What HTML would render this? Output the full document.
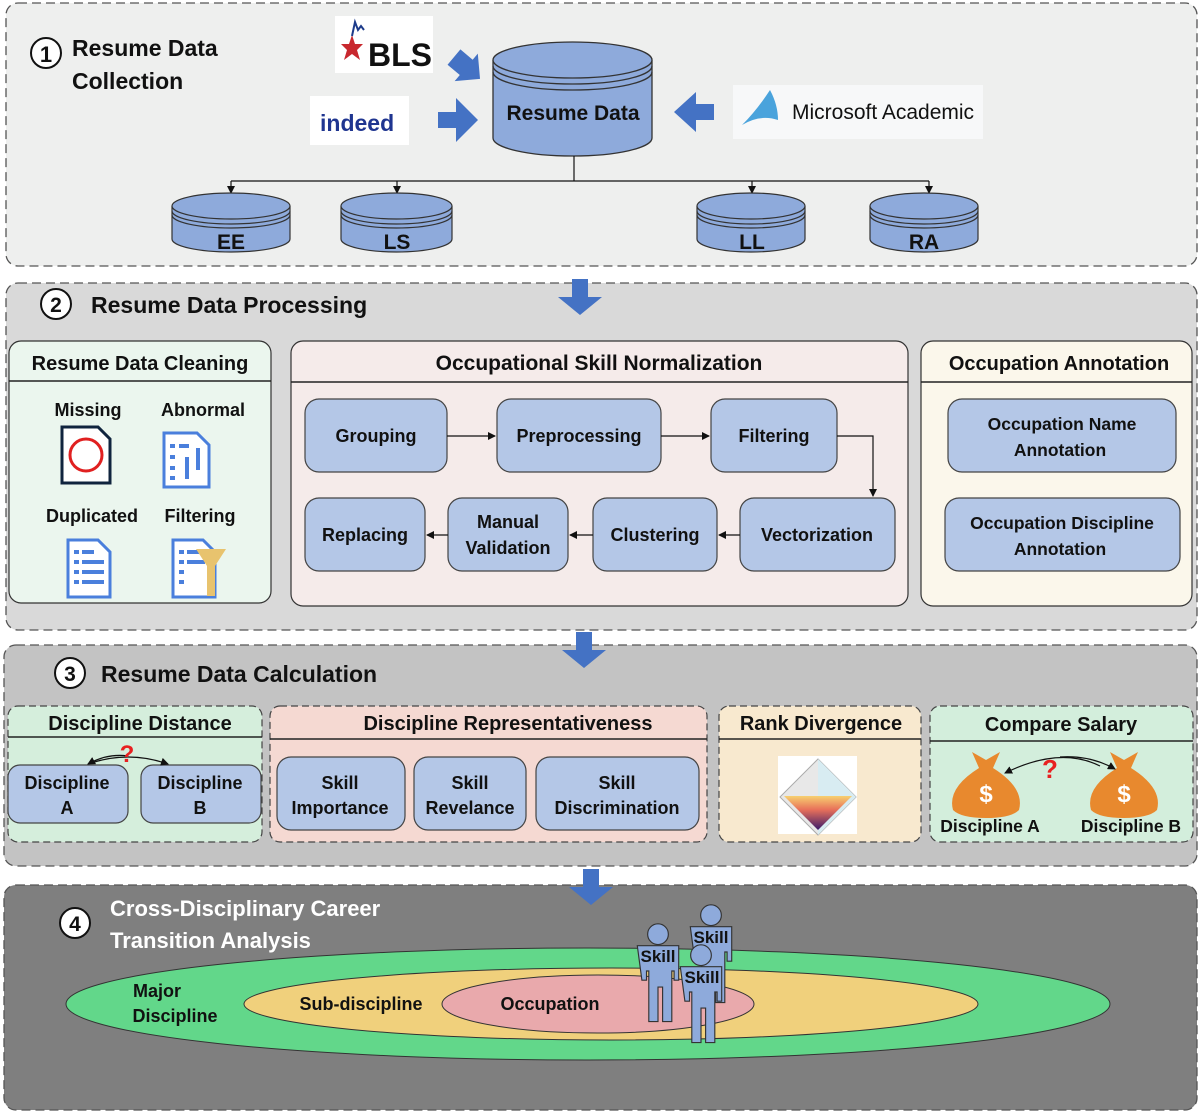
<!DOCTYPE html>
<html><head><meta charset="utf-8"><style>
html,body{margin:0;padding:0;background:#fff}
svg{display:block}
text{font-family:"Liberation Sans",sans-serif;font-weight:bold;fill:#111}
</style></head><body>
<svg width="1200" height="1114" viewBox="0 0 1200 1114" xmlns="http://www.w3.org/2000/svg">
<defs>
<marker id="ah" markerWidth="8" markerHeight="8" refX="7" refY="4" orient="auto" markerUnits="userSpaceOnUse"><path d="M0,0 L8,4 L0,8 z" fill="#111"/></marker>
<g id="bigarrow"><path d="M-8,0 h16 v18 h14 l-22,18 l-22,-18 h14 z" fill="#4472c4"/></g>
</defs>

<!-- Section 1 -->
<rect x="6" y="3" width="1191" height="263" rx="12" fill="#eeefee" stroke="#555" stroke-dasharray="9,5" stroke-width="1.3"/>
<circle cx="46" cy="53" r="15" fill="#fff" stroke="#111" stroke-width="2"/>
<text x="46" y="62" font-size="22" text-anchor="middle">1</text>
<text x="72" y="56" font-size="23">Resume Data</text>
<text x="72" y="89" font-size="23">Collection</text>

<!-- BLS logo -->
<rect x="335" y="16" width="98" height="57" fill="#fff"/>
<path d="M341,44 l8,0 l3,-9 l3,9 l8,0 l-6,6 l3,10 l-8,-6 l-8,6 l3,-10 z" fill="#c8282e"/>
<path d="M352,36 l3,-14 l3,8 l3,-4 l3,4" stroke="#1d3b8a" stroke-width="2" fill="none"/>
<text x="368" y="66" font-size="32" style="font-weight:900">BLS</text>
<!-- indeed logo -->
<rect x="310" y="96" width="99" height="49" fill="#fff"/>
<text x="320" y="131" font-size="23" style="fill:#1f3590">indeed</text>
<!-- Microsoft Academic -->
<rect x="733" y="85" width="250" height="54" fill="#f7f8f9"/>
<path d="M742,125 q15,-15 28,-35 q8,15 8,30 q-18,-6 -36,5z" fill="#4aa3dc"/>
<text x="792" y="119" font-size="21" style="font-weight:normal">Microsoft Academic</text>

<!-- blue arrows in -->
<path d="M450,58 l16,0 l0,-8 l18,18 l-18,18 l0,-8 l-16,0 z" fill="#4472c4" transform="rotate(40 467 68)"/>
<path d="M438,112 h18 v-14 l22,22 l-22,22 v-14 h-18 z" fill="#4472c4"/>
<path d="M714,104 h-18 v-12 l-22,20 l22,20 v-12 h18 z" fill="#4472c4"/>

<!-- big cylinder -->
<g stroke="#333" stroke-width="1.3" fill="#8eaadb">
<path d="M493,60 v78 a79.5,18 0 0 0 159,0 v-78"/>
<ellipse cx="572.5" cy="60" rx="79.5" ry="18"/>
<path d="M493,66 a79.5,18 0 0 0 159,0 M493,72 a79.5,18 0 0 0 159,0" fill="none"/>
</g>
<text x="573" y="120" font-size="21" text-anchor="middle">Resume Data</text>

<!-- connectors -->
<g stroke="#111" stroke-width="1.2" fill="none">
<path d="M574,156 v25"/>
<path d="M231,181 h698"/>
<path d="M231,181 v12" marker-end="url(#ah)"/>
<path d="M397,181 v12" marker-end="url(#ah)"/>
<path d="M752,181 v12" marker-end="url(#ah)"/>
<path d="M929,181 v12" marker-end="url(#ah)"/>
</g>
<!-- small cylinders -->
<g stroke="#333" stroke-width="1.2" fill="#8eaadb">
<path d="M172,206 v33 a59,13 0 0 0 118,0 v-33"/><ellipse cx="231" cy="206" rx="59" ry="13"/><path d="M172,211 a59,13 0 0 0 118,0 M172,215 a59,13 0 0 0 118,0" fill="none"/>
<path d="M341,206 v33 a55.5,13 0 0 0 111,0 v-33"/><ellipse cx="396.5" cy="206" rx="55.5" ry="13"/><path d="M341,211 a55.5,13 0 0 0 111,0 M341,215 a55.5,13 0 0 0 111,0" fill="none"/>
<path d="M697,206 v33 a54,13 0 0 0 108,0 v-33"/><ellipse cx="751" cy="206" rx="54" ry="13"/><path d="M697,211 a54,13 0 0 0 108,0 M697,215 a54,13 0 0 0 108,0" fill="none"/>
<path d="M870,206 v33 a54,13 0 0 0 108,0 v-33"/><ellipse cx="924" cy="206" rx="54" ry="13"/><path d="M870,211 a54,13 0 0 0 108,0 M870,215 a54,13 0 0 0 108,0" fill="none"/>
</g>
<g font-size="21" text-anchor="middle">
<text x="231" y="249">EE</text><text x="397" y="249">LS</text><text x="752" y="249">LL</text><text x="924" y="249">RA</text>
</g>

<!-- Section 2 -->
<rect x="6" y="283" width="1191" height="347" rx="12" fill="#d9d9d9" stroke="#555" stroke-dasharray="9,5" stroke-width="1.3"/>
<use href="#bigarrow" x="580" y="279"/>
<circle cx="56" cy="304" r="15" fill="#fff" stroke="#111" stroke-width="2"/>
<text x="56" y="312" font-size="21" text-anchor="middle">2</text>
<text x="91" y="313" font-size="23">Resume Data Processing</text>

<!-- cleaning -->
<rect x="9" y="341" width="262" height="262" rx="12" fill="#ebf6ee" stroke="#333" stroke-width="1.2"/>
<line x1="9" y1="381" x2="271" y2="381" stroke="#222" stroke-width="1.5"/>
<text x="140" y="370" font-size="20" text-anchor="middle">Resume Data Cleaning</text>
<g font-size="18" text-anchor="middle">
<text x="88" y="416">Missing</text><text x="203" y="416">Abnormal</text>
<text x="92" y="522">Duplicated</text><text x="200" y="522">Filtering</text>
</g>
<!-- icons -->
<path d="M62,427 h36 l12,12 v44 h-48 z" fill="#fff" stroke="#10243e" stroke-width="3"/>
<circle cx="86" cy="455" r="16" fill="none" stroke="#e02020" stroke-width="3"/>
<path d="M164,433 h33 l12,12 v42 h-45 z" fill="#fff" stroke="#4a7fdc" stroke-width="3"/>
<g fill="#4a7fdc"><rect x="170" y="444" width="5" height="4"/><rect x="179" y="444" width="10" height="4"/><rect x="170" y="455" width="5" height="4"/><rect x="170" y="466" width="5" height="4"/><rect x="170" y="476" width="5" height="4"/><rect x="185" y="457" width="4" height="22"/><rect x="196" y="448" width="4" height="22"/></g>
<path d="M68,540 h30 l12,12 v45 h-42 z" fill="#fff" stroke="#4a7fdc" stroke-width="3"/>
<g fill="#4a7fdc"><rect x="74" y="550" width="5" height="4"/><rect x="82" y="550" width="12" height="4"/><rect x="74" y="560" width="5" height="4"/><rect x="82" y="560" width="22" height="4"/><rect x="74" y="570" width="5" height="4"/><rect x="82" y="570" width="22" height="4"/><rect x="74" y="580" width="5" height="4"/><rect x="82" y="580" width="22" height="4"/></g>
<path d="M173,540 h30 l12,12 v45 h-42 z" fill="#fff" stroke="#4a7fdc" stroke-width="3"/>
<g fill="#4a7fdc"><rect x="179" y="550" width="5" height="4"/><rect x="187" y="550" width="12" height="4"/><rect x="179" y="560" width="5" height="4"/><rect x="187" y="560" width="18" height="4"/><rect x="179" y="570" width="5" height="4"/><rect x="179" y="580" width="5" height="4"/></g>
<path d="M196,549 h30 l-11,17 v30 h-8 v-30 z" fill="#e8c36e"/>

<!-- normalization -->
<rect x="291" y="341" width="617" height="265" rx="12" fill="#f5ebea" stroke="#333" stroke-width="1.2"/>
<line x1="291" y1="382" x2="908" y2="382" stroke="#222" stroke-width="1.5"/>
<text x="599" y="370" font-size="21" text-anchor="middle">Occupational Skill Normalization</text>
<g fill="#b4c7e7" stroke="#444" stroke-width="1.2">
<rect x="305" y="399" width="142" height="73" rx="14"/>
<rect x="497" y="399" width="164" height="73" rx="14"/>
<rect x="711" y="399" width="126" height="73" rx="14"/>
<rect x="740" y="498" width="155" height="73" rx="14"/>
<rect x="593" y="498" width="124" height="73" rx="14"/>
<rect x="448" y="498" width="120" height="73" rx="14"/>
<rect x="305" y="498" width="120" height="73" rx="14"/>
</g>
<g stroke="#111" stroke-width="1.2" fill="none">
<path d="M447,436 h48" marker-end="url(#ah)"/>
<path d="M661,436 h48" marker-end="url(#ah)"/>
<path d="M837,436 h36 v60" marker-end="url(#ah)"/>
<path d="M740,535 h-21" marker-end="url(#ah)"/>
<path d="M593,535 h-23" marker-end="url(#ah)"/>
<path d="M448,535 h-21" marker-end="url(#ah)"/>
</g>
<g font-size="18" text-anchor="middle">
<text x="376" y="442">Grouping</text>
<text x="579" y="442">Preprocessing</text>
<text x="774" y="442">Filtering</text>
<text x="817" y="541">Vectorization</text>
<text x="655" y="541">Clustering</text>
<text x="508" y="528">Manual</text><text x="508" y="554">Validation</text>
<text x="365" y="541">Replacing</text>
</g>

<!-- annotation -->
<rect x="921" y="341" width="271" height="265" rx="12" fill="#fbf7eb" stroke="#333" stroke-width="1.2"/>
<line x1="921" y1="382" x2="1192" y2="382" stroke="#222" stroke-width="1.5"/>
<text x="1059" y="370" font-size="20" text-anchor="middle">Occupation Annotation</text>
<g fill="#b4c7e7" stroke="#444" stroke-width="1.2">
<rect x="948" y="399" width="228" height="73" rx="14"/>
<rect x="945" y="498" width="235" height="73" rx="14"/>
</g>
<g font-size="17.5" text-anchor="middle">
<text x="1062" y="430">Occupation Name</text><text x="1060" y="456">Annotation</text>
<text x="1062" y="529">Occupation Discipline</text><text x="1060" y="555">Annotation</text>
</g>

<!-- Section 3 -->
<rect x="4" y="645" width="1193" height="221" rx="12" fill="#c3c3c3" stroke="#555" stroke-dasharray="9,5" stroke-width="1.3"/>
<use href="#bigarrow" x="584" y="632"/>
<circle cx="70" cy="673" r="15" fill="#fff" stroke="#111" stroke-width="2"/>
<text x="70" y="681" font-size="21" text-anchor="middle">3</text>
<text x="101" y="682" font-size="23">Resume Data Calculation</text>

<rect x="8" y="706" width="254" height="136" rx="10" fill="#d5eedc" stroke="#444" stroke-dasharray="7,4" stroke-width="1.2"/>
<line x1="8" y1="737" x2="262" y2="737" stroke="#222" stroke-width="1.5"/>
<text x="140" y="730" font-size="20" text-anchor="middle">Discipline Distance</text>
<rect x="270" y="706" width="437" height="136" rx="10" fill="#f5d9d2" stroke="#444" stroke-dasharray="7,4" stroke-width="1.2"/>
<line x1="270" y1="739" x2="707" y2="739" stroke="#222" stroke-width="1.5"/>
<text x="508" y="730" font-size="20" text-anchor="middle">Discipline Representativeness</text>
<rect x="719" y="706" width="202" height="136" rx="10" fill="#f8e9cf" stroke="#444" stroke-dasharray="7,4" stroke-width="1.2"/>
<line x1="719" y1="739" x2="921" y2="739" stroke="#222" stroke-width="1.5"/>
<text x="821" y="730" font-size="20" text-anchor="middle">Rank Divergence</text>
<rect x="930" y="706" width="263" height="136" rx="10" fill="#d3eedc" stroke="#444" stroke-dasharray="7,4" stroke-width="1.2"/>
<line x1="930" y1="741" x2="1193" y2="741" stroke="#222" stroke-width="1.5"/>
<text x="1061" y="731" font-size="20" text-anchor="middle">Compare Salary</text>

<g fill="#b4c7e7" stroke="#444" stroke-width="1.2">
<rect x="8" y="765" width="120" height="58" rx="12"/>
<rect x="141" y="765" width="120" height="58" rx="12"/>
<rect x="277" y="757" width="128" height="73" rx="14"/>
<rect x="414" y="757" width="112" height="73" rx="14"/>
<rect x="536" y="757" width="163" height="73" rx="14"/>
</g>
<path d="M88,764 q40,-14 80,0" stroke="#111" stroke-width="1.2" fill="none" marker-end="url(#ah)"/>
<path d="M128,756 q-20,-3 -40,8" stroke="#111" stroke-width="1.2" fill="none" marker-end="url(#ah)"/>
<text x="127" y="762" font-size="24" style="fill:#e82020" text-anchor="middle">?</text>
<g font-size="18" text-anchor="middle">
<text x="67" y="789">Discipline</text><text x="67" y="814">A</text>
<text x="200" y="789">Discipline</text><text x="200" y="814">B</text>
<text x="340" y="789">Skill</text><text x="340" y="814">Importance</text>
<text x="470" y="789">Skill</text><text x="470" y="814">Revelance</text>
<text x="617" y="789">Skill</text><text x="617" y="814">Discrimination</text>
</g>
<!-- rank image -->
<rect x="778" y="756" width="79" height="78" fill="#fff"/>
<path d="M818,759 l38,38 l-38,38 l-38,-38 z" fill="#e8e8e8" stroke="#aaa"/>
<path d="M818,759 l38,38 l-38,38 z" fill="#d8ecf2"/>
<defs><linearGradient id="rg" x1="0" y1="0" x2="0" y2="1"><stop offset="0" stop-color="#f7d070"/><stop offset="0.4" stop-color="#e8705a"/><stop offset="1" stop-color="#3a1a6a"/></linearGradient></defs>
<path d="M784,796 l68,0 l-34,34 z" fill="url(#rg)"/>
<!-- money bags -->
<g fill="#e8892e">
<path d="M972,752 l14,8 l14,-8 l-7,16 q32,20 26,42 q-8,8 -33,8 q-25,0 -33,-8 q-6,-22 26,-42 z"/>
<path d="M1110,752 l14,8 l14,-8 l-7,16 q32,20 26,42 q-8,8 -33,8 q-25,0 -33,-8 q-6,-22 26,-42 z"/>
</g>
<g font-size="24" text-anchor="middle"><text x="986" y="802" style="fill:#fff">$</text><text x="1124" y="802" style="fill:#fff">$</text></g>
<path d="M1100,766 q-40,-20 -95,7" stroke="#111" stroke-width="1.2" fill="none" marker-end="url(#ah)"/>
<path d="M1060,757 q30,-2 55,12" stroke="#111" stroke-width="1.2" fill="none" marker-end="url(#ah)"/>
<text x="1050" y="778" font-size="26" style="fill:#e82020" text-anchor="middle">?</text>
<g font-size="17.5" text-anchor="middle">
<text x="990" y="832">Discipline A</text><text x="1131" y="832">Discipline B</text>
</g>

<!-- Section 4 -->
<rect x="4" y="885" width="1193" height="225" rx="12" fill="#7f7f7f" stroke="#555" stroke-dasharray="9,5" stroke-width="1.3"/>
<use href="#bigarrow" x="591" y="869"/>
<circle cx="75" cy="923" r="15" fill="#fff" stroke="#111" stroke-width="2"/>
<text x="75" y="931" font-size="21" text-anchor="middle">4</text>
<text x="110" y="916" font-size="22" style="fill:#fff">Cross-Disciplinary Career</text>
<text x="110" y="948" font-size="22" style="fill:#fff">Transition Analysis</text>
<ellipse cx="588" cy="1004" rx="522" ry="56" fill="#62d78a" stroke="#333" stroke-width="1"/>
<ellipse cx="611" cy="1004" rx="367" ry="36" fill="#f0d07c" stroke="#333" stroke-width="1"/>
<ellipse cx="598" cy="1004" rx="156" ry="29" fill="#e9a9ac" stroke="#333" stroke-width="1"/>
<g font-size="18" text-anchor="middle">
<text x="157" y="997">Major</text><text x="175" y="1022">Discipline</text>
<text x="361" y="1010">Sub-discipline</text>
<text x="550" y="1010">Occupation</text>
</g>
<!-- people -->
<g fill="#8eaadb" stroke="#333" stroke-width="1">
<g transform="translate(658,925) scale(1.15)"><circle cx="0" cy="8" r="9"/><path d="M-18,18 h36 v30 h-4 v-8 h-2 v44 h-8 v-30 h-4 v30 h-8 v-44 h-2 v8 h-4 z"/></g>
<g transform="translate(711,906) scale(1.15)"><circle cx="0" cy="8" r="9"/><path d="M-18,18 h36 v30 h-4 v-8 h-2 v44 h-8 v-30 h-4 v30 h-8 v-44 h-2 v8 h-4 z"/></g>
<g transform="translate(701,946) scale(1.15)"><circle cx="0" cy="8" r="9"/><path d="M-18,18 h36 v30 h-4 v-8 h-2 v44 h-8 v-30 h-4 v30 h-8 v-44 h-2 v8 h-4 z"/></g>
</g>
<g font-size="17" text-anchor="middle">
<text x="658" y="962">Skill</text><text x="711" y="943">Skill</text><text x="702" y="983">Skill</text>
</g>
</svg>
</body></html>
